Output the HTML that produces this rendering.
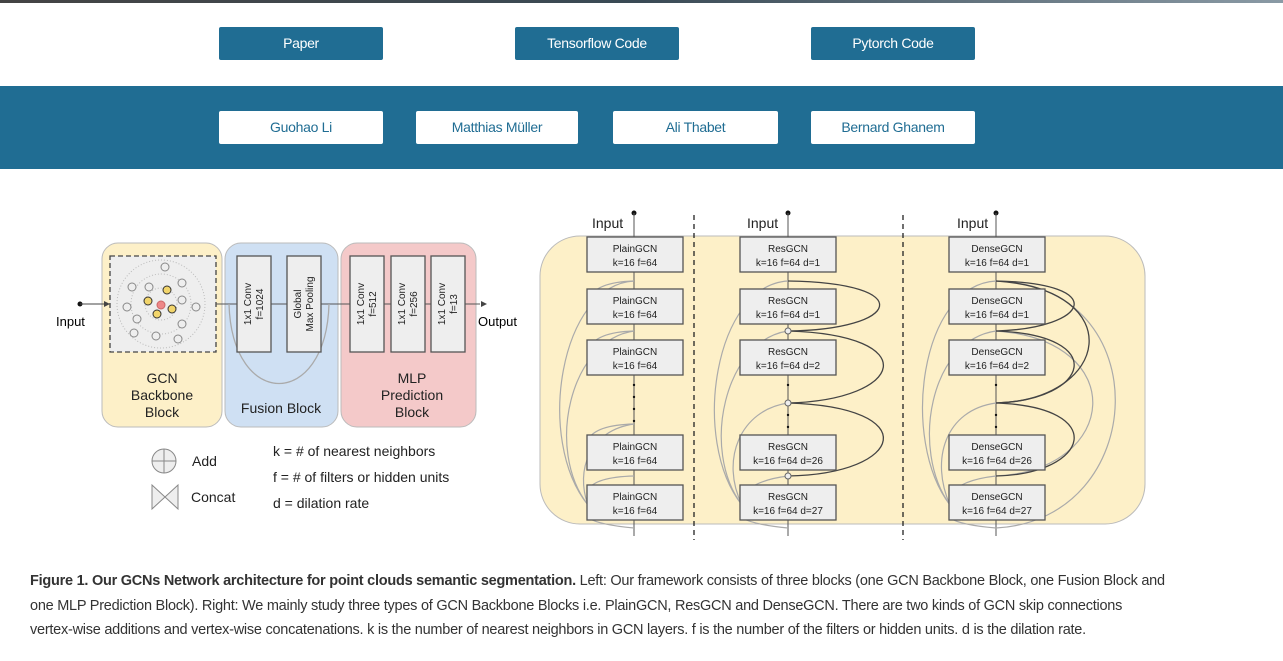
<!DOCTYPE html>
<html><head><meta charset="utf-8"><style>
body{margin:0;width:1283px;height:661px;background:#fff;font-family:"Liberation Sans",sans-serif;position:relative;overflow:hidden}
.top{position:absolute;left:0;top:0;width:1283px;height:3px;background:linear-gradient(90deg,#444,#3a4a55 50%,#8a9aa5)}
.band{position:absolute;left:0;top:86px;width:1283px;height:83px;background:#206d93}
.btn{position:absolute;height:33px;line-height:33px;text-align:center;font-size:14px;border-radius:2px;letter-spacing:-0.3px}
.b1{background:#206d93;color:#fff;top:27px;width:164px}
.b2{background:#fff;color:#206d93;top:111px}
.cap{position:absolute;left:30px;top:569px;font-size:14.5px;line-height:24.5px;color:#333;white-space:nowrap;letter-spacing:-0.25px}
svg{position:absolute;left:0;top:0}
</style></head><body>
<div class="top"></div>
<div class="btn b1" style="left:219px">Paper</div>
<div class="btn b1" style="left:515px">Tensorflow Code</div>
<div class="btn b1" style="left:811px">Pytorch Code</div>
<div class="band"></div>
<div class="btn b2" style="left:219px;width:164px">Guohao Li</div>
<div class="btn b2" style="left:416px;width:162px">Matthias Müller</div>
<div class="btn b2" style="left:613px;width:165px">Ali Thabet</div>
<div class="btn b2" style="left:811px;width:164px">Bernard Ghanem</div>

<svg width="1283" height="661" font-family="Liberation Sans, sans-serif">
<rect x="102" y="243" width="120" height="184" rx="16" fill="#fdf0c8" stroke="#bbb"/>
<rect x="225" y="243" width="113" height="184" rx="16" fill="#cfe0f3" stroke="#bbb"/>
<rect x="341" y="243" width="135" height="184" rx="16" fill="#f4c9c9" stroke="#bbb"/>
<rect x="110" y="256" width="106" height="96" fill="#eee" stroke="#444" stroke-dasharray="5,3" stroke-width="1.3"/>
<g fill="none" stroke="#bbb" stroke-dasharray="1,2"><circle cx="161" cy="304" r="16"/><circle cx="161" cy="304" r="30"/><circle cx="161" cy="304" r="44"/></g>
<g fill="#eee" stroke="#888"><circle cx="165" cy="267" r="4"/><circle cx="132" cy="287" r="4"/><circle cx="149" cy="287" r="4"/><circle cx="182" cy="283" r="4"/><circle cx="127" cy="307" r="4"/><circle cx="182" cy="300" r="4"/><circle cx="196" cy="307" r="4"/><circle cx="137" cy="319" r="4"/><circle cx="182" cy="324" r="4"/><circle cx="134" cy="333" r="4"/><circle cx="156" cy="336" r="4"/><circle cx="178" cy="339" r="4"/></g>
<g fill="#f2d56b" stroke="#333"><circle cx="167" cy="290" r="4"/><circle cx="148" cy="301" r="4"/><circle cx="172" cy="309" r="4"/><circle cx="157" cy="314" r="4"/></g>
<circle cx="161" cy="305" r="4" fill="#e88" stroke="#c66"/>
<circle cx="80" cy="304" r="2.5" fill="#111"/><line x1="80" y1="304" x2="108" y2="304" stroke="#444"/><path d="M104 301 L110 304 L104 307z" fill="#444"/>
<text x="56" y="326" font-size="13">Input</text>
<g font-size="14" text-anchor="middle" fill="#222"><text x="162" y="383">GCN</text><text x="162" y="400">Backbone</text><text x="162" y="417">Block</text><text x="281" y="413">Fusion Block</text><text x="412" y="383">MLP</text><text x="412" y="400">Prediction</text><text x="412" y="417">Block</text></g>
<line x1="216" y1="304" x2="480" y2="304" stroke="#555"/>
<path d="M229 304 C232 410 326 410 329 304" fill="none" stroke="#aaa" stroke-width="1.3"/>
<g fill="#eee" stroke="#555" stroke-width="1.3"><rect x="237" y="256" width="34" height="96"/><rect x="287" y="256" width="34" height="96"/><rect x="350" y="256" width="34" height="96"/><rect x="391" y="256" width="34" height="96"/><rect x="431" y="256" width="34" height="96"/></g>
<g font-size="10" text-anchor="middle" fill="#222">
<text transform="translate(254,304) rotate(-90)"><tspan x="0" y="-3">1x1 Conv</tspan><tspan x="0" y="9">f=1024</tspan></text>
<text transform="translate(304,304) rotate(-90)"><tspan x="0" y="-3">Global</tspan><tspan x="0" y="9">Max Pooling</tspan></text>
<text transform="translate(367,304) rotate(-90)"><tspan x="0" y="-3">1x1 Conv</tspan><tspan x="0" y="9">f=512</tspan></text>
<text transform="translate(408,304) rotate(-90)"><tspan x="0" y="-3">1x1 Conv</tspan><tspan x="0" y="9">f=256</tspan></text>
<text transform="translate(448,304) rotate(-90)"><tspan x="0" y="-3">1x1 Conv</tspan><tspan x="0" y="9">f=13</tspan></text></g>
<path d="M481 301 L487 304 L481 307z" fill="#444"/>
<text x="478" y="326" font-size="13">Output</text>
<circle cx="164" cy="461" r="12" fill="#eee" stroke="#888"/><line x1="152" y1="461" x2="176" y2="461" stroke="#888"/><line x1="164" y1="449" x2="164" y2="473" stroke="#888"/>
<path d="M152 485 L178 509 L178 485 L152 509z" fill="#eee" stroke="#888"/>
<g font-size="14" fill="#222"><text x="192" y="466">Add</text><text x="191" y="502">Concat</text><text x="273" y="456">k = # of nearest neighbors</text><text x="273" y="482">f = # of filters or hidden units</text><text x="273" y="508">d = dilation rate</text></g>
<rect x="540" y="236" width="605" height="288" rx="40" fill="#fdf0c8" stroke="#bbb"/>
<g stroke="#222" stroke-dasharray="5,4" stroke-width="1.3"><line x1="694" y1="215" x2="694" y2="540"/><line x1="903" y1="215" x2="903" y2="540"/></g>
<g font-size="14" fill="#222"><text x="592" y="228">Input</text><text x="747" y="228">Input</text><text x="957" y="228">Input</text></g>
<g fill="#111"><circle cx="634" cy="213" r="2.5"/><circle cx="788" cy="213" r="2.5"/><circle cx="996" cy="213" r="2.5"/></g>
<g stroke="#555"><line x1="634" y1="213" x2="634" y2="536"/><line x1="788" y1="213" x2="788" y2="536"/><line x1="996" y1="213" x2="996" y2="536"/></g>
<g fill="none" stroke="#aaa" stroke-width="1.2">
<path d="M634 281 Q595 282 588 300"/><path d="M634 331 Q595 332 588 350"/><path d="M634 424 Q595 425 588 440"/><path d="M634 476 Q595 477 588 490"/><path d="M634 528 Q600 525 588 518"/>
<path d="M634 281 C560 285 535 440 588 505"/><path d="M634 331 C570 340 545 450 588 505"/><path d="M634 424 C590 430 575 470 588 505"/>
<path d="M788 281 C715 285 690 440 742 505"/><path d="M788 331 C725 340 700 450 742 505"/><path d="M788 403 C740 410 720 460 742 505"/><path d="M788 476 Q755 480 742 495"/><path d="M788 528 Q755 525 742 518"/>
<path d="M996 281 C920 285 900 440 950 505"/><path d="M996 331 C930 340 910 450 950 505"/><path d="M996 403 C945 410 930 460 950 505"/><path d="M996 476 Q960 480 950 495"/><path d="M996 528 Q960 525 950 518"/>
<path d="M996 281 C1160 285 1150 520 996 528"/>
<path d="M996 331 C1130 340 1120 470 996 476"/>
</g>
<g fill="none" stroke="#444" stroke-width="1.3">
<path d="M788 281 C920 283 900 330 788 331"/>
<path d="M788 331 C925 335 905 400 788 403"/>
<path d="M788 403 C925 407 905 474 788 476"/>
<path d="M996 281 C1110 283 1090 328 996 331"/>
<path d="M996 331 C1110 335 1090 400 996 403"/>
<path d="M996 403 C1110 407 1090 474 996 476"/>
<path d="M996 281 C1130 290 1110 400 996 403"/>
</g>
<g fill="#eee" stroke="#666"><circle cx="788" cy="331" r="3"/><circle cx="788" cy="403" r="3"/><circle cx="788" cy="476" r="3"/></g>
<g fill="#111"><circle cx="634" cy="385" r="1.2"/><circle cx="634" cy="397" r="1.2"/><circle cx="634" cy="409" r="1.2"/><circle cx="634" cy="421" r="1.2"/><circle cx="788" cy="385" r="1.2"/><circle cx="788" cy="415" r="1.2"/><circle cx="788" cy="427" r="1.2"/><circle cx="996" cy="385" r="1.2"/><circle cx="996" cy="415" r="1.2"/><circle cx="996" cy="427" r="1.2"/></g>
<g fill="#eee" stroke="#555" stroke-width="1.3">
<rect x="587" y="237" width="96" height="35"/><rect x="587" y="289" width="96" height="35"/><rect x="587" y="340" width="96" height="35"/><rect x="587" y="435" width="96" height="35"/><rect x="587" y="485" width="96" height="35"/>
<rect x="740" y="237" width="96" height="35"/><rect x="740" y="289" width="96" height="35"/><rect x="740" y="340" width="96" height="35"/><rect x="740" y="435" width="96" height="35"/><rect x="740" y="485" width="96" height="35"/>
<rect x="949" y="237" width="96" height="35"/><rect x="949" y="289" width="96" height="35"/><rect x="949" y="340" width="96" height="35"/><rect x="949" y="435" width="96" height="35"/><rect x="949" y="485" width="96" height="35"/>
</g>
<g font-size="10" text-anchor="middle" fill="#222">
<text x="635" y="252">PlainGCN</text><text x="635" y="266">k=16 f=64</text>
<text x="635" y="304">PlainGCN</text><text x="635" y="318">k=16 f=64</text>
<text x="635" y="355">PlainGCN</text><text x="635" y="369">k=16 f=64</text>
<text x="635" y="450">PlainGCN</text><text x="635" y="464">k=16 f=64</text>
<text x="635" y="500">PlainGCN</text><text x="635" y="514">k=16 f=64</text>
<text x="788" y="252">ResGCN</text><text x="788" y="266">k=16 f=64 d=1</text>
<text x="788" y="304">ResGCN</text><text x="788" y="318">k=16 f=64 d=1</text>
<text x="788" y="355">ResGCN</text><text x="788" y="369">k=16 f=64 d=2</text>
<text x="788" y="450">ResGCN</text><text x="788" y="464">k=16 f=64 d=26</text>
<text x="788" y="500">ResGCN</text><text x="788" y="514">k=16 f=64 d=27</text>
<text x="997" y="252">DenseGCN</text><text x="997" y="266">k=16 f=64 d=1</text>
<text x="997" y="304">DenseGCN</text><text x="997" y="318">k=16 f=64 d=1</text>
<text x="997" y="355">DenseGCN</text><text x="997" y="369">k=16 f=64 d=2</text>
<text x="997" y="450">DenseGCN</text><text x="997" y="464">k=16 f=64 d=26</text>
<text x="997" y="500">DenseGCN</text><text x="997" y="514">k=16 f=64 d=27</text>
</g>
</svg>
<div class="cap"><b>Figure 1. Our GCNs Network architecture for point clouds semantic segmentation.</b> Left: Our framework consists of three blocks (one GCN Backbone Block, one Fusion Block and<br>one MLP Prediction Block). Right: We mainly study three types of GCN Backbone Blocks i.e. PlainGCN, ResGCN and DenseGCN. There are two kinds of GCN skip connections<br>vertex-wise additions and vertex-wise concatenations. k is the number of nearest neighbors in GCN layers. f is the number of the filters or hidden units. d is the dilation rate.</div>
</body></html>
